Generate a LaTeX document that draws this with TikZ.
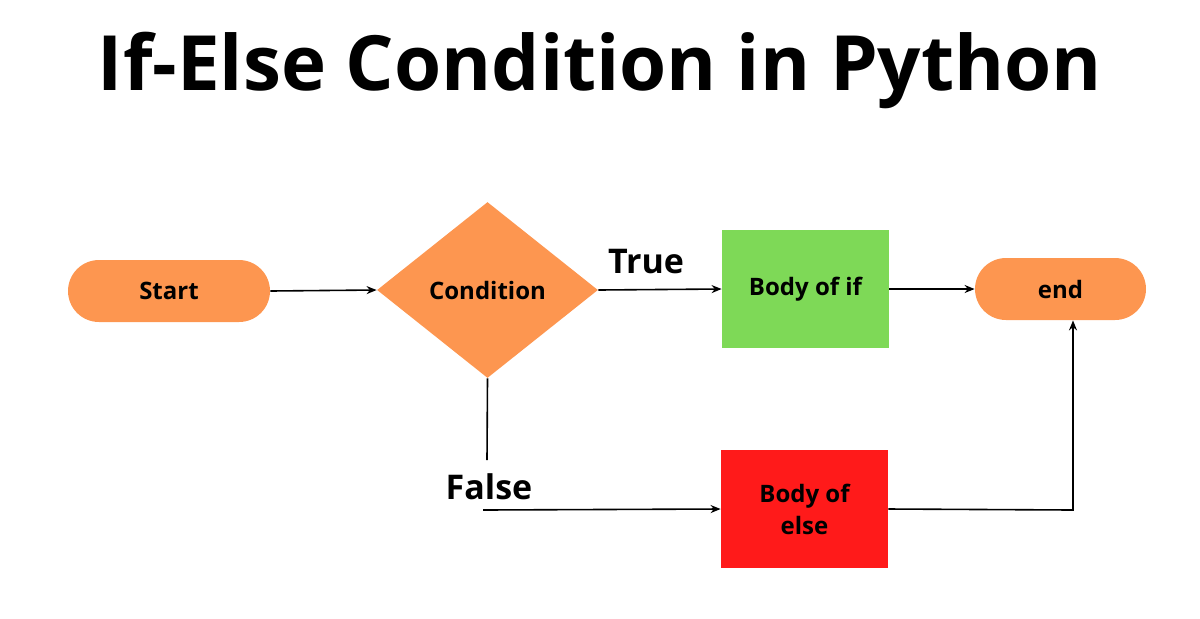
\documentclass[tikz,border=0pt]{standalone}
\usepackage{fontspec}
\setmainfont{Open Sans}
\usetikzlibrary{shapes.geometric,arrows.meta}
\definecolor{orng}{HTML}{FD9650}
\definecolor{grn}{HTML}{7ED957}
\definecolor{rd}{HTML}{FF1A1A}
\tikzset{
  term/.style={fill=orng,rounded corners=15.5pt,minimum height=31pt,inner sep=0pt,font=\bfseries\fontsize{12}{14}\selectfont},
  box/.style={minimum width=83.5pt,minimum height=59pt,inner sep=0pt,align=center,font=\bfseries\fontsize{12}{16}\selectfont},
  lbl/.style={font=\bfseries\fontsize{17}{20}\selectfont},
  arr/.style={-{Stealth[length=5pt,width=4pt]},line width=0.8pt},
  ln/.style={line width=0.8pt}
}
\begin{document}
\begin{tikzpicture}[x=0.5pt,y=-0.5pt]
\useasboundingbox (0,0) rectangle (1200,618);
\node (title) at (600,70) {\resizebox{502pt}{!}{\bfseries If-Else Condition in Python}};
\node[term,minimum width=101pt] (start) at (169,291) {Start};
\node[fill=orng,diamond,minimum width=110.5pt,minimum height=88pt,inner sep=0pt,aspect=1.25,font=\bfseries\fontsize{12}{14}\selectfont] (cond) at (487.5,290) {Condition};
\node[box,fill=grn] (bif) at (805.5,289) {Body of if};
\node[term,minimum width=85.5pt] (end) at (1060.5,289) {end};
\node[box,fill=rd] (belse) at (804.5,509) {Body of\\else};
\coordinate (f1) at (487,460);
\coordinate (f2) at (483,510);
\coordinate (c1) at (1073,510);
\node[lbl] (true) at (646,262) {True};
\node[lbl] (false) at (489,487) {False};
\draw[arr] (start.east) -- (cond.west);
\draw[arr] (cond.east) -- (bif.west);
\draw[arr] (bif.east) -- (end.west);
\draw[ln] (cond.south) -- (f1);
\draw[arr] (f2) -- (belse.west);
\draw[arr] (belse.east) -- (c1) -- (c1 |- end.south);
\end{tikzpicture}
\end{document}
